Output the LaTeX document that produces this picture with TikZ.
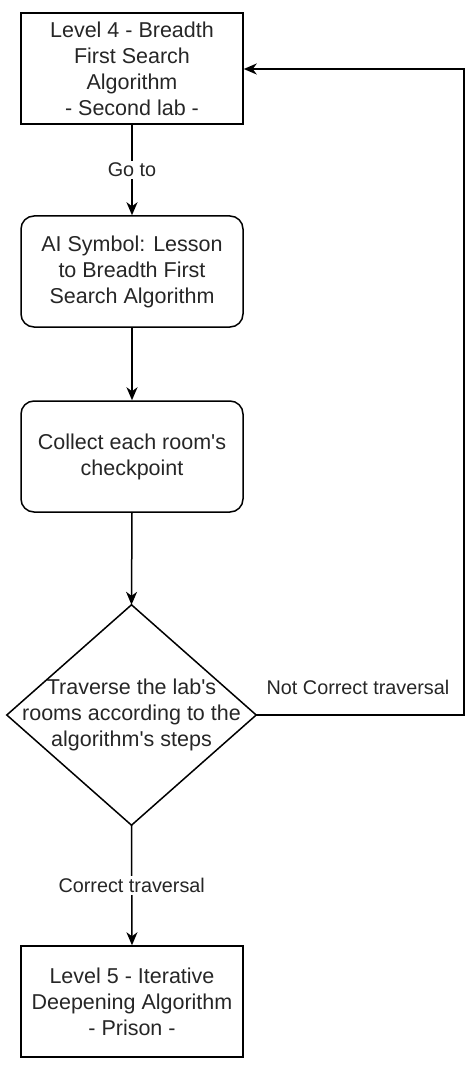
\documentclass[tikz,border=0pt]{standalone}
\usepackage{fontspec}
\setmainfont{Liberation Sans}
\usetikzlibrary{arrows.meta}
\begin{document}
\begin{tikzpicture}[x=1pt,y=1pt,
  every node/.style={text=black!85},
  box/.style={draw=black,line width=1.5pt,minimum width=222pt,minimum height=111pt,inner sep=0pt,align=center,font=\fontsize{21.5}{26}\selectfont},
  rbox/.style={box,rounded corners=13pt},
  conn/.style={draw=black,line width=1.5pt,-{Stealth[length=13pt,width=11pt,inset=4pt]}},
  lbl/.style={fill=white,inner sep=2pt,font=\fontsize{19.8}{24}\selectfont}
]
\useasboundingbox (0,0) rectangle (474,-1067);
\node[box] (n1) at (132,-68.5) {Level 4 - Breadth\\First Search\\Algorithm\\- Second lab -};
\node[rbox] (n2) at (132,-271.5) {AI Symbol: Lesson\\to Breadth First\\Search Algorithm};
\node[rbox] (n3) at (132,-456.5) {Collect each room\textquotesingle s\\checkpoint};
\node[minimum width=249pt,minimum height=220pt,inner sep=0pt,align=center,font=\fontsize{21.5}{26}\selectfont] (d) at (131.5,-715) {Traverse the lab\textquotesingle s\\rooms according to the\\algorithm\textquotesingle s steps};
\draw[line width=1.5pt] (d.north) -- (d.east) -- (d.south) -- (d.west) -- cycle;
\node[box] (n5) at (132,-1001.5) {Level 5 - Iterative\\Deepening Algorithm\\- Prison -};
\coordinate (c) at (464,-69);
\draw[conn] (n1.south) -- node[lbl] {Go to} (n2.north);
\draw[conn] (n2.south) -- (n3.north);
\draw[conn] (n3.south) -- (d.north);
\draw[conn] (d.south) -- node[lbl] {Correct traversal} (n5.north);
\draw[conn] (d.east) -| (c) -- (n1.east |- c);
\node[font=\fontsize{19.8}{24}\selectfont,inner sep=0pt] (nl) at (358,-687) {Not Correct traversal};
\end{tikzpicture}
\end{document}
